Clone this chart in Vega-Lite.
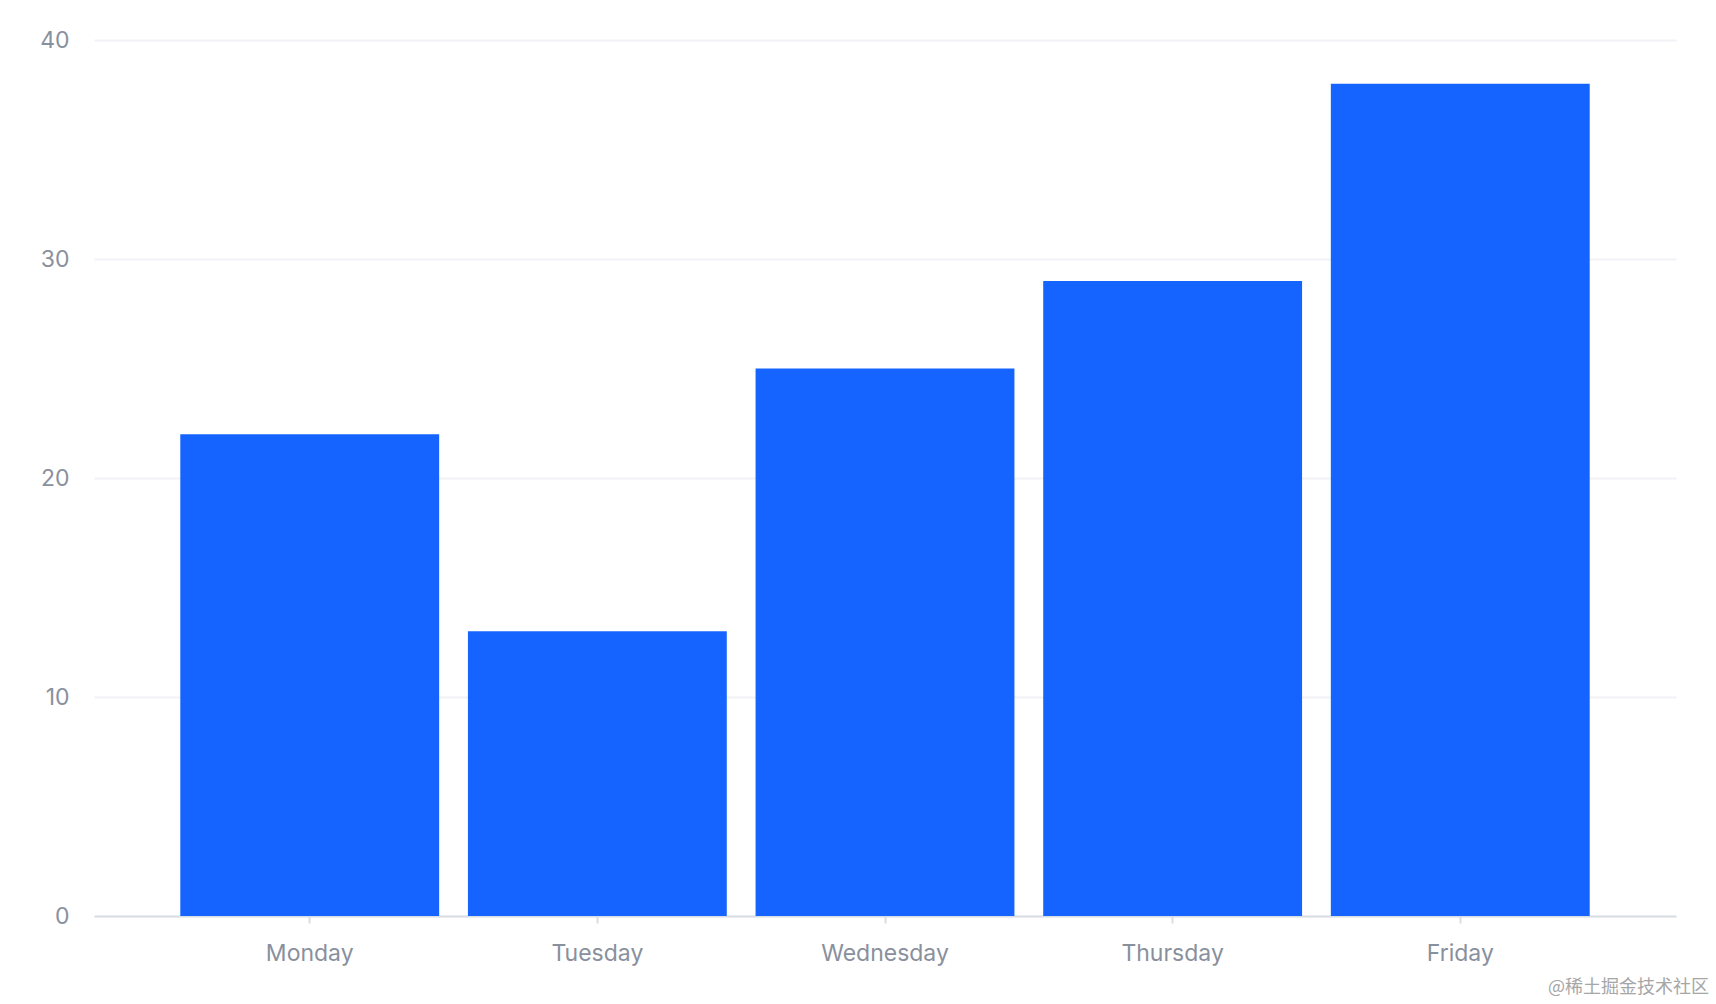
{
  "$schema": "https://vega.github.io/schema/vega-lite/v6.json",
  "autosize": "none",
  "width": 1582,
  "height": 876,
  "padding": {"left": 94, "top": 40, "right": 40, "bottom": 88},
  "background": "#ffffff",
  "config": {"view": {"stroke": null}, "font": "Inter"},
  "title": {
    "text": "@稀土掘金技术社区",
    "orient": "bottom",
    "anchor": "end",
    "font": "Noto Sans CJK SC",
    "fontSize": 18,
    "fontWeight": "normal",
    "color": "#a6a6a6",
    "offset": 14,
    "dx": 33
  },
  "data": {
    "values": [
      {"day": "Monday", "value": 22},
      {"day": "Tuesday", "value": 13},
      {"day": "Wednesday", "value": 25},
      {"day": "Thursday", "value": 29},
      {"day": "Friday", "value": 38}
    ]
  },
  "mark": {"type": "bar", "color": "#1664FF"},
  "encoding": {
    "x": {
      "field": "day",
      "type": "nominal",
      "sort": null,
      "scale": {"paddingInner": 0.1, "paddingOuter": 0.3},
      "axis": {
        "title": null,
        "labelAngle": 0,
        "labelFontSize": 23,
        "labelColor": "#89909D",
        "labelPadding": 19,
        "domainColor": "#D9DDE4",
        "domainWidth": 2,
        "tickColor": "#D9DDE4",
        "tickWidth": 2,
        "tickSize": 7,
        "grid": false
      }
    },
    "y": {
      "field": "value",
      "type": "quantitative",
      "scale": {"domain": [0, 40]},
      "axis": {
        "title": null,
        "values": [0, 10, 20, 30, 40],
        "labelFontSize": 23,
        "labelColor": "#89909D",
        "labelPadding": 25,
        "domain": false,
        "ticks": false,
        "grid": true,
        "gridColor": "#F1F2F5",
        "gridWidth": 2
      }
    }
  }
}
